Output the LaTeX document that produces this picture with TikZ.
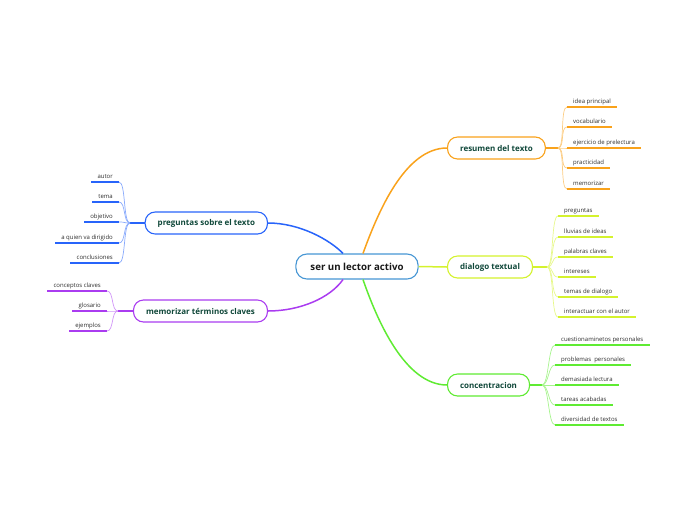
\documentclass[tikz,border=0pt]{standalone}
\usepackage{fontspec}
\setmainfont{Open Sans}
\definecolor{cblue}{RGB}{40,100,250}
\definecolor{cpurple}{RGB}{170,60,240}
\definecolor{corange}{RGB}{249,162,27}
\definecolor{cyellow}{RGB}{212,242,45}
\definecolor{cgreen}{RGB}{95,235,50}
\definecolor{ccentral}{RGB}{70,150,212}
\definecolor{maintext}{RGB}{16,72,58}
\definecolor{leaftext}{RGB}{45,45,45}
\begin{document}
\begin{tikzpicture}[x=1pt,y=-1pt,
  central/.style={draw=ccentral, line width=1.1pt, fill=white, rounded corners=11pt,
    minimum height=25pt, inner xsep=14.5pt, text=black!90,
    font=\fontsize{9.7}{11}\selectfont\bfseries},
  mainbox/.style={draw=#1, line width=1.1pt, fill=white, rounded corners=10pt,
    minimum height=22pt, inner xsep=12.5pt, text=maintext,
    font=\fontsize{8}{9}\selectfont\bfseries},
  leaf/.style={inner xsep=6pt, inner ysep=2pt, text height=4.5pt, text depth=1.5pt,
    text=leaftext, font=\fontsize{6}{7}\selectfont},
  branch/.style={draw=#1, line width=1.5pt},
  uline/.style={draw=#1, line width=1.4pt},
  fan/.style={draw=#1!55, line width=0.7pt}
]
\useasboundingbox (0,0) rectangle (697,520);

% central
\node[central] (c) at (357,266.5) {ser un lector activo};
\coordinate (cbl) at ([xshift=-14pt]c.north);
\coordinate (cor) at ([xshift=6pt]c.north);
\coordinate (cgr) at ([xshift=6pt]c.south);
\coordinate (cpu) at ([xshift=-14pt]c.south);

% main nodes
\node[mainbox=corange, anchor=west] (rs) at (447,148) {resumen del texto};
\node[mainbox=cyellow, anchor=west] (dt) at (447,267) {dialogo textual};
\node[mainbox=cgreen, anchor=west] (cc) at (447,385) {concentracion};
\node[mainbox=cblue, anchor=east] (pq) at (268,223) {preguntas sobre el texto};
\node[mainbox=cpurple, anchor=east] (mt) at (268,311) {memorizar términos claves};

% main connectors
\draw[branch=cblue] (cbl) .. controls (330,240) and (300,223) .. (pq.east);
\draw[branch=cpurple] (cpu) .. controls (330,298) and (300,311) .. (mt.east);
\draw[branch=corange] (cor) .. controls (378,212) and (405,148) .. (rs.west);
\draw[branch=cgreen] (cgr) .. controls (377,320) and (405,385) .. (cc.west);
\draw[branch=cyellow] (c.east) -- (dt.west);

% branch points
\coordinate (rb) at (558,148);
\coordinate (db) at (547,267);
\coordinate (gb) at (542,385);
\coordinate (pb) at (130,223);
\coordinate (mb) at (118,311);
\draw[branch=corange, line width=1.2pt] (rs.east) -- (rb);
\draw[branch=cyellow, line width=1.2pt] (dt.east) -- (db);
\draw[branch=cgreen, line width=1.2pt] (cc.east) -- (gb);
\draw[branch=cblue, line width=1.2pt] (pq.west) -- (pb);
\draw[branch=cpurple, line width=1.2pt] (mt.west) -- (mb);

% resumen leaves
\foreach \n/\y/\t in {r1/107/idea principal, r2/127/vocabulario, r3/148/ejercicio de prelectura, r4/168/practicidad, r5/189/memorizar}{
  \node[leaf, anchor=south west] (\n) at (567,\y) {\t};
  \draw[fan=corange] (rb) .. controls +(7,0) and +(-7,0) .. (\n.south west);
  \draw[uline=corange] (\n.south west) -- (\n.south east);
}
% dialogo leaves
\foreach \n/\y/\t in {d1/216/preguntas, d2/237/lluvias de ideas, d3/257/palabras claves, d4/277/intereses, d5/297/temas de dialogo, d6/317/interactuar con el autor}{
  \node[leaf, anchor=south west] (\n) at (558,\y) {\t};
  \draw[fan=cyellow] (db) .. controls +(7,0) and +(-7,0) .. (\n.south west);
  \draw[uline=cyellow] (\n.south west) -- (\n.south east);
}
% concentracion leaves
\foreach \n/\y/\t in {g1/345/cuestionaminetos personales, g2/365/problemas~ personales, g3/385/demasiada lectura, g4/405/tareas acabadas, g5/425/diversidad de textos}{
  \node[leaf, anchor=south west] (\n) at (555,\y) {\t};
  \draw[fan=cgreen] (gb) .. controls +(7,0) and +(-7,0) .. (\n.south west);
  \draw[uline=cgreen] (\n.south west) -- (\n.south east);
}
% preguntas leaves
\foreach \n/\y/\t in {p1/182/autor, p2/202/tema, p3/222/objetivo, p4/243/a quien va dirigido, p5/263/conclusiones}{
  \node[leaf, anchor=south east] (\n) at (119,\y) {\t};
  \draw[fan=cblue] (pb) .. controls +(-7,0) and +(7,0) .. (\n.south east);
  \draw[uline=cblue] (\n.south west) -- (\n.south east);
}
% memorizar leaves
\foreach \n/\y/\t in {m1/291/conceptos claves, m2/311/glosario, m3/331/ejemplos}{
  \node[leaf, anchor=south east] (\n) at (107,\y) {\t};
  \draw[fan=cpurple] (mb) .. controls +(-7,0) and +(7,0) .. (\n.south east);
  \draw[uline=cpurple] (\n.south west) -- (\n.south east);
}
\end{tikzpicture}
\end{document}
